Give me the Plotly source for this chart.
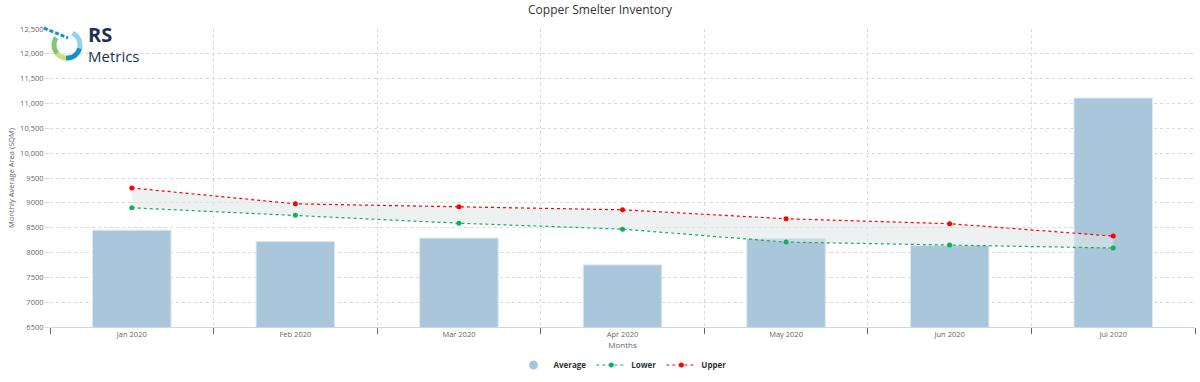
import math
import plotly.graph_objects as go

months = ["Jan 2020", "Feb 2020", "Mar 2020", "Apr 2020", "May 2020", "Jun 2020", "Jul 2020"]
average = [8450, 8220, 8290, 7750, 8280, 8140, 11110]
lower = [8900, 8750, 8590, 8470, 8210, 8150, 8090]
upper = [9300, 8980, 8920, 8860, 8680, 8580, 8330]
ytick_vals = [6500, 7000, 7500, 8000, 8500, 9000, 9500, 10000, 10500, 11000, 11500, 12000, 12500]
ytick_text = ["6500", "7000", "7500", "8000", "8500", "9000", "9500",
              "10,000", "10,500", "11,000", "11,500", "12,000", "12,500"]

FONT = "Open Sans"
BAR_COLOR = "#a9c6db"
GREEN = "#0fae62"
RED = "#ff0000"

fig = go.Figure()
fig.add_trace(go.Bar(
    x=months, y=average, name="Average", width=0.48, showlegend=False,
    marker=dict(color=BAR_COLOR, line=dict(color="#dce8f0", width=1)),
))
fig.add_trace(go.Scatter(
    x=months, y=lower, name="Lower", mode="lines+markers", showlegend=False,
    line=dict(color=GREEN, width=1.2, dash="dot"),
    marker=dict(color=GREEN, size=5, symbol="circle"),
))
fig.add_trace(go.Scatter(
    x=months, y=upper, name="Upper", mode="lines+markers", showlegend=False,
    line=dict(color=RED, width=1.2, dash="dot"),
    marker=dict(color=RED, size=5, symbol="circle"),
    fill="tonexty", fillcolor="rgba(225,232,232,0.6)",
))
# legend entries
fig.add_trace(go.Scatter(x=[None], y=[None], name="<b>Average</b>", mode="markers",
                         marker=dict(color=BAR_COLOR, size=9, symbol="circle")))
fig.add_trace(go.Scatter(x=[None], y=[None], name="<b>Lower</b>", mode="lines+markers",
                         line=dict(color=GREEN, width=1.2, dash="dot"),
                         marker=dict(color=GREEN, size=5)))
fig.add_trace(go.Scatter(x=[None], y=[None], name="<b>Upper</b>", mode="lines+markers",
                         line=dict(color=RED, width=1.2, dash="dot"),
                         marker=dict(color=RED, size=5)))

GRID = "#d9d9d9"
W, H = 1200, 382
L, R, T, B = 50, 5, 29, 55
fig.update_layout(
    width=W, height=H,
    margin=dict(l=L, r=R, t=T, b=B, autoexpand=False),
    paper_bgcolor="white", plot_bgcolor="white",
    font=dict(family=FONT, size=8, color="#666666"),
    title=dict(text="Copper Smelter Inventory", x=0.5, xanchor="center", y=1 - 10 / H, yanchor="middle",
               font=dict(family=FONT, size=12, color="#333333")),
    showlegend=True,
    legend=dict(orientation="h", x=0.5, xanchor="center", yref="container", y=1 - 365 / H,
                yanchor="middle", traceorder="normal",
                font=dict(family=FONT, size=8, color="#333333"),
                itemwidth=30, tracegroupgap=0),
    xaxis=dict(
        type="category", tickson="boundaries", showgrid=True, gridcolor=GRID, griddash="3px,3px",
        gridwidth=1, ticks="outside", ticklen=6, tickcolor="#666666", automargin=False,
        showline=True, linecolor="#ccd6eb", linewidth=1,
        title=dict(text="Months", font=dict(size=8, color="#666666"), standoff=6),
        tickfont=dict(size=7.5, color="#666666"), range=[-0.5, 6.5],
    ),
    yaxis=dict(
        range=[6500, 12500], tickvals=ytick_vals, ticktext=ytick_text, showgrid=True,
        gridcolor=GRID, griddash="3px,3px", gridwidth=1, zeroline=False, automargin=False,
        ticks="outside", ticklen=4, tickcolor=GRID,
        title=dict(text="Monthly Average Area (SQM)", font=dict(size=7.5, color="#666666"), standoff=4),
        tickfont=dict(size=7.5, color="#666666"),
    ),
)

# Logo drawn in pixel coordinates converted to paper coordinates
pw, ph = W - L - R, H - T - B

def px(x):
    return (x - L) / pw

def py(y):
    return (H - B - y) / ph

def arc_paper(cx, cy, r, a0, a1, n=24):
    pts = []
    for i in range(n + 1):
        a = math.radians(a0 + (a1 - a0) * i / n)
        pts.append((px(cx + r * math.cos(a)), py(cy + r * math.sin(a))))
    return "M " + " L ".join(f"{x:.5f},{y:.5f}" for x, y in pts)

cx, cy, r = 67, 45, 13
arcs = [(-65, 15, "#8fd3f0"), (15, 95, "#1a8fc8"), (95, 140, "#c9e07a"), (140, 215, "#7fc57a")]
shapes = []
for a0, a1, col in arcs:
    shapes.append(dict(type="path", xref="paper", yref="paper",
                       path=arc_paper(cx, cy, r, a0, a1), line=dict(color=col, width=5)))
shapes.append(dict(type="line", xref="paper", yref="paper",
                   x0=px(44), y0=py(28), x1=px(68), y1=py(38),
                   line=dict(color="#1a8fc8", width=3, dash="4px,2px")))
fig.update_layout(shapes=shapes)
fig.add_annotation(text="<span style='font-size:20px'><b>RS</b></span><br>Metrics",
                   xref="paper", yref="paper", x=px(86), y=py(43),
                   xanchor="left", yanchor="middle", align="left", showarrow=False,
                   font=dict(family=FONT, size=15, color="#1d3150"))

fig.write_html("out.html", config={"displayModeBar": False},
               post_script="document.body.style.margin='0';document.body.style.overflow='hidden';")
